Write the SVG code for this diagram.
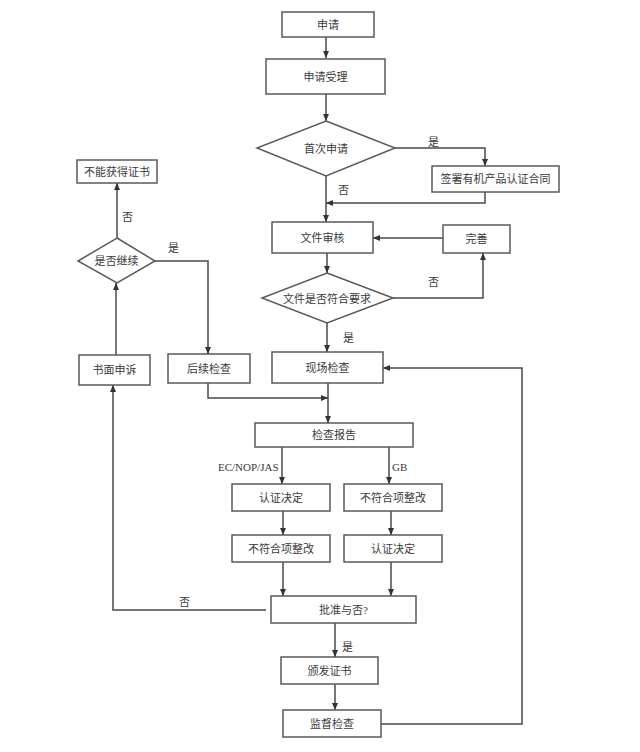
<svg xmlns="http://www.w3.org/2000/svg" width="640" height="752" viewBox="0 0 640 752">
<defs>
<style>
.b{fill:#fff;stroke:#5a5a5a;stroke-width:1.5}
.t{font-family:"Liberation Serif","Noto Sans CJK SC",serif;font-size:11px;fill:#3a3a3a;text-anchor:middle;dominant-baseline:central}
.l{font-family:"Liberation Serif","Noto Sans CJK SC",serif;font-size:11px;fill:#3a3a3a;dominant-baseline:central}
.c{fill:none;stroke:#4a4a4a;stroke-width:1.5}
</style>
<marker id="a" markerUnits="userSpaceOnUse" markerWidth="8" markerHeight="8" refX="7" refY="4" orient="auto">
<path d="M0,1 L7,4 L0,7 Z" fill="#333"/>
</marker>
</defs>
<rect width="640" height="752" fill="#fff"/>
<g id="connectors">
<path class="c" d="M326,37 V58" marker-end="url(#a)"/>
<path class="c" d="M326,94 V121" marker-end="url(#a)"/>
<path class="c" d="M395,148 H485 V166" marker-end="url(#a)"/>
<path class="c" d="M485,192 V203 H326" marker-end="url(#a)"/>
<path class="c" d="M326,176 V222" marker-end="url(#a)"/>
<path class="c" d="M443,238 H373" marker-end="url(#a)"/>
<path class="c" d="M327,253 V273" marker-end="url(#a)"/>
<path class="c" d="M393,298 H483 V253" marker-end="url(#a)"/>
<path class="c" d="M327,323 V352" marker-end="url(#a)"/>
<path class="c" d="M328,383 V423" marker-end="url(#a)"/>
<path class="c" d="M208,383 V398 H328" marker-end="url(#a)"/>
<path class="c" d="M155,261 H208 V354" marker-end="url(#a)"/>
<path class="c" d="M117,238 V183" marker-end="url(#a)"/>
<path class="c" d="M116,355 V283" marker-end="url(#a)"/>
<path class="c" d="M282,447 V484" marker-end="url(#a)"/>
<path class="c" d="M389,447 V484" marker-end="url(#a)"/>
<path class="c" d="M283,511 V535" marker-end="url(#a)"/>
<path class="c" d="M391,511 V535" marker-end="url(#a)"/>
<path class="c" d="M283,562 V596" marker-end="url(#a)"/>
<path class="c" d="M391,562 V596" marker-end="url(#a)"/>
<path class="c" d="M266,610 H113 V385" marker-end="url(#a)"/>
<path class="c" d="M335,623 V657" marker-end="url(#a)"/>
<path class="c" d="M335,684 V710" marker-end="url(#a)"/>
<path class="c" d="M381,724 H522 V368 H383" marker-end="url(#a)"/>
<text class="l" x="428" y="142">是</text>
<text class="l" x="338" y="190">否</text>
<text class="l" x="428" y="282">否</text>
<text class="l" x="343" y="338">是</text>
<text class="l" x="122" y="217">否</text>
<text class="l" x="168" y="248">是</text>
<text class="l" x="218" y="467">EC/NOP/JAS</text>
<text class="l" x="392" y="467">GB</text>
<text class="l" x="179" y="602">否</text>
<text class="l" x="342" y="647">是</text>
</g>
<g id="n1"><rect class="b" x="282" y="12" width="92" height="25"/><text class="t" x="328" y="24.5">申请</text></g>
<g id="n2"><rect class="b" x="266" y="59" width="119" height="35"/><text class="t" x="325.5" y="76.5">申请受理</text></g>
<g id="n3"><polygon class="b" points="326,121 395,148 326,176 257,148"/><text class="t" x="326" y="148.5">首次申请</text></g>
<g id="n4"><rect class="b" x="432" y="166" width="127" height="26"/><text class="t" x="495.5" y="179">签署有机产品认证合同</text></g>
<g id="n5"><rect class="b" x="272" y="222" width="101" height="31"/><text class="t" x="322.5" y="237.5">文件审核</text></g>
<g id="n6"><rect class="b" x="443" y="225" width="67" height="28"/><text class="t" x="476.5" y="239">完善</text></g>
<g id="n7"><polygon class="b" points="327,273 393,298 327,323 262,298"/><text class="t" x="327" y="298.5">文件是否符合要求</text></g>
<g id="n8"><rect class="b" x="272" y="352" width="111" height="31"/><text class="t" x="327.5" y="367.5">现场检查</text></g>
<g id="n9"><rect class="b" x="77" y="160" width="80" height="23"/><text class="t" x="117" y="171.5">不能获得证书</text></g>
<g id="n10"><polygon class="b" points="117,238 155,261 117,283 78,261"/><text class="t" x="116.5" y="261">是否继续</text></g>
<g id="n11"><rect class="b" x="79" y="355" width="71" height="30"/><text class="t" x="114.5" y="370">书面申诉</text></g>
<g id="n12"><rect class="b" x="168" y="354" width="82" height="29"/><text class="t" x="209" y="368.5">后续检查</text></g>
<g id="n13"><rect class="b" x="255" y="423" width="158" height="24"/><text class="t" x="334" y="435">检查报告</text></g>
<g id="n14"><rect class="b" x="232" y="484" width="98" height="27"/><text class="t" x="281" y="497.5">认证决定</text></g>
<g id="n15"><rect class="b" x="344" y="484" width="98" height="27"/><text class="t" x="393" y="497.5">不符合项整改</text></g>
<g id="n16"><rect class="b" x="232" y="535" width="98" height="27"/><text class="t" x="281" y="548.5">不符合项整改</text></g>
<g id="n17"><rect class="b" x="344" y="535" width="98" height="27"/><text class="t" x="393" y="548.5">认证决定</text></g>
<g id="n18"><rect class="b" x="271" y="596" width="145" height="27"/><text class="t" x="343.5" y="609.5">批准与否?</text></g>
<g id="n19"><rect class="b" x="281" y="657" width="97" height="27"/><text class="t" x="329.5" y="670.5">颁发证书</text></g>
<g id="n20"><rect class="b" x="283" y="710" width="98" height="27"/><text class="t" x="332" y="723.5">监督检查</text></g>
</svg>
